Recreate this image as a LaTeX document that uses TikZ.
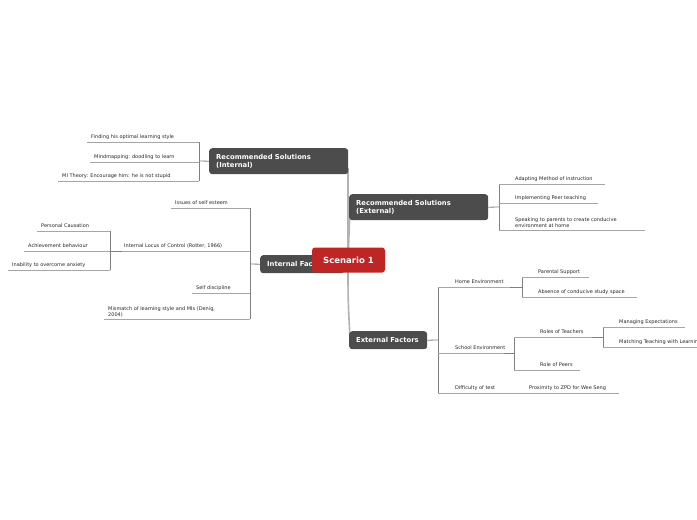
\documentclass[tikz,border=0pt]{standalone}
\usepackage{fontspec}
\setmainfont{DejaVu Sans}
\begin{document}
\begin{tikzpicture}[x=1pt,y=-1pt,
  lf/.style={anchor=base west,inner sep=0pt,font=\fontsize{5}{6}\selectfont,text=black!85},
  ln/.style={draw=black!35,line width=0.7pt},
  br/.style={draw=black!50,line width=0.8pt},
  topic/.style={fill=black!70,rounded corners=3pt,text=white,font=\bfseries\fontsize{6.8}{7.6}\selectfont,anchor=north west,inner sep=0pt,align=left},
  ctr/.style={fill=red!70!black!85!white,rounded corners=3pt,text=white,font=\bfseries\fontsize{8.5}{10}\selectfont,inner sep=0pt},
  stem/.style={draw=black!30,line width=1.6pt}]
\useasboundingbox (0,0) rectangle (697,520);
\clip (0,0) rectangle (697,520);
% stems
\draw[stem] (348,260) .. controls (348,220) .. (348,168);
\draw[stem] (348,260) -- (350,210);
\draw[stem] (348,260) .. controls (348,300) .. (350,338);
% Rec internal
\node[topic,minimum width=139,minimum height=26,text width=125,inner xsep=7pt] (ri) at (209,148) {Recommended Solutions\\(Internal)};
\draw[br] (199,142) -- (199,181); \draw[br] (199,161) -- (ri.west);
\draw[ln] (87,142)--(199,142); \node[lf] (r1) at (91,138.5) {Finding his optimal learning style};
\draw[ln] (90,162)--(199,162); \node[lf] (r2) at (94,158.5) {Mindmapping: doodling to learn};
\draw[ln] (58,181)--(199,181); \node[lf] (r3) at (62,177.5) {MI Theory: Encourage him: he is not stupid};
% Rec external
\node[topic,minimum width=139,minimum height=26,text width=125,inner xsep=7pt] (re) at (349,194) {Recommended Solutions\\(External)};
\draw[br] (499,184) -- (499,230); \draw[br] (re.east) -- (499,207);
\draw[ln] (499,184)--(605,184); \node[lf] (e1) at (515,180.5) {Adapting Method of instruction};
\draw[ln] (499,203)--(598,203); \node[lf] (e2) at (515,199.5) {Implementing Peer teaching};
\draw[ln] (499,230)--(645,230); \node[lf,align=left,anchor=south west] (e3) at (515,228) {Speaking to parents to create conducive\\environment at home};
% Internal factors
\node[topic,minimum width=84,minimum height=18,text width=70,inner xsep=7pt] (inf) at (260,255) {Internal Factors};
\draw[br] (250,208) -- (250,319); \draw[br] (250,264) -- (inf.west);
\draw[ln] (171,208)--(250,208); \node[lf] (i1) at (175,204.5) {Issues of self esteem};
\draw[ln] (110,251)--(250,251); \node[lf] (i2) at (124,247.5) {Internal Locus of Control (Rotter, 1966)};
\draw[br] (110,231)--(110,270); \draw[br] (110,251)--(122,251);
\draw[ln] (37,231)--(110,231); \node[lf] (p1) at (41,227.5) {Personal Causation};
\draw[ln] (24,251)--(110,251); \node[lf] (p2) at (28,247.5) {Achievement behaviour};
\draw[ln] (8,270)--(110,270); \node[lf] (p3) at (12,266.5) {Inability to overcome anxiety};
\draw[ln] (192,293)--(250,293); \node[lf] (i3) at (196,289.5) {Self discipline};
\draw[ln] (104,319)--(250,319); \node[lf,align=left,anchor=south west] (i4) at (108,317) {Mismatch of learning style and MIs (Denig,\\2004)};
% Center
\node[ctr,minimum width=73,minimum height=25] (c) at (348.5,260) {Scenario 1};
% External factors
\node[topic,minimum width=78,minimum height=18,text width=64,inner xsep=7pt] (ef) at (349,331) {External Factors};
\draw[br] (438,287) -- (438,393); \draw[br] (ef.east) -- (438,340);
\draw[ln] (438,287)--(522,287); \node[lf] (x1) at (455,283.5) {Home Environment};
\draw[br] (522,277)--(522,297); \draw[br] (510,287)--(522,287);
\draw[ln] (522,277)--(589,277); \node[lf] (h1) at (538,273.5) {Parental Support};
\draw[ln] (522,297)--(637,297); \node[lf] (h2) at (538,293.5) {Absence of conducive study space};
\draw[ln] (438,353)--(514,353); \node[lf] (x2) at (455,349.5) {School Environment};
\draw[br] (514,337)--(514,370); \draw[br] (504,353)--(514,353);
\draw[ln] (514,337)--(603,337); \node[lf] (s1) at (540,333.5) {Roles of Teachers};
\draw[br] (603,327)--(603,347); \draw[br] (592,337)--(603,337);
\draw[ln] (603,327)--(685,327); \node[lf] (t1) at (619,323.5) {Managing Expectations};
\draw[ln] (603,347)--(720,347); \node[lf] (t2) at (619,343.5) {Matching Teaching with Learning Styles};
\draw[ln] (514,370)--(580,370); \node[lf] (s2) at (540,366.5) {Role of Peers};
\draw[ln] (438,393)--(619,393); \node[lf] (x3) at (455,389.5) {Difficulty of test};
\node[lf] (d1) at (529,389.5) {Proximity to ZPD for Wee Seng};
\end{tikzpicture}
\end{document}
